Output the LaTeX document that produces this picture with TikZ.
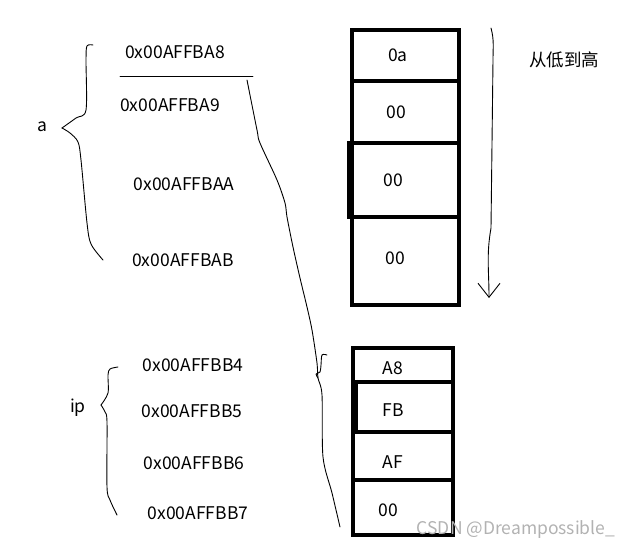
\documentclass[tikz,border=0pt]{standalone}
\usepackage{fontspec}
\newfontfamily\cjk{Noto Sans CJK SC}
\usetikzlibrary{arrows.meta, positioning}

\begin{document}
\begin{tikzpicture}[x=1pt, y=-1pt,
        cell/.style={draw, rectangle, line width=4pt, minimum width=107pt, inner sep=0pt},
        cellb/.style={cell, minimum width=100pt, line width=4.5pt},
        addr/.style={font=\cjk\fontsize{17.5}{21}\selectfont, inner sep=0pt},
        val/.style={addr},
        hand/.style={line width=0.9pt, line join=round, line cap=round},
        wmark/.style={font=\cjk\fontsize{17.5}{21}\selectfont, text=gray!60, inner sep=0pt}
    ]
    \useasboundingbox (0,0) rectangle (637,551);

    % Upper memory (a)
    \node[cell, minimum height=51pt] (m1) at (405.5,55.5) {};
    \node[cell, minimum height=62pt] (m2) at (405.5,112) {};
    \node[cell, minimum height=74pt] (m3) at (405.5,180) {};
    \node[cell, minimum height=88pt] (m4) at (405.5,261) {};
    \draw[line width=3pt] ([xshift=-1.5pt]m3.north west) -- ([xshift=-1.5pt]m3.south west);

    \node[val] (v1) at ([xshift=-7.5pt]m1.center) {0a};
    \node[val] (v2) at ([xshift=-9.5pt]m2.center) {00};
    \node[val] (v3) at ([xshift=-12.5pt]m3.center) {00};
    \node[val] (v4) at ([xshift=-10.5pt,yshift=3pt]m4.center) {00};

    % Lower memory (ip)
    \node[cellb, minimum height=34pt] (p1) at (403,365) {};
    \node[cellb, minimum height=50pt] (p2) at (403,407) {};
    \node[cellb, minimum height=48pt] (p3) at (403,456) {};
    \node[cellb, minimum height=55pt] (p4) at (403,507.5) {};
    \draw[line width=3pt] ([xshift=5.75pt]p2.north west) -- ([xshift=5.75pt]p2.south west);

    \node[val] (w1) at (393,368) {A8};
    \node[val] (w2) at (393,410) {FB};
    \node[val] (w3) at (393,462) {AF};
    \node[val] (w4) at (388,510) {00};

    % Addresses
    \node[addr] (ba8) at (175,52) {0x00AFFBA8};
    \node[addr] (ba9) at (170,105) {0x00AFFBA9};
    \node[addr] (baa) at (184,184) {0x00AFFBAA};
    \node[addr] (bab) at (183,260) {0x00AFFBAB};
    \node[addr] (bb4) at (193,365) {0x00AFFBB4};
    \node[addr] (bb5) at (192,411) {0x00AFFBB5};
    \node[addr] (bb6) at (194,463) {0x00AFFBB6};
    \node[addr] (bb7) at (198,513) {0x00AFFBB7};

    \node[addr, anchor=mid] (lblA) at (42,129) {a};
    \node[addr, anchor=mid] (lblIp) at (78,410) {ip};
    \node[addr] (order) at (564,60) {从低到高};

    % Braces and hand lines
    \draw[hand] (120,76) -- (253,76);
    \draw[hand] plot[smooth, tension=0.5] coordinates {(93,45) (87,46) (86,60) (86,110) (76,118) (62,128)};
    \draw[hand] plot[smooth, tension=0.5] coordinates {(62,128) (70,133) (78,142) (81,160) (87,223) (91,244) (103,260)};
    \draw[hand] plot[smooth, tension=0.5] coordinates {(118,367) (110,369) (108,375) (108,393) (101,405)};
    \draw[hand] plot[smooth, tension=0.5] coordinates {(101,405) (105,412) (107,422) (107,487) (110,500) (117,515)};
    \draw[hand] plot[smooth, tension=0.5] coordinates {(327,355) (322,355) (321,365) (320,372) (316,374) (318,378)};
    \draw[hand] plot[smooth, tension=0.5] coordinates {(247,80) (257,130) (260,143) (277,180) (285,203) (287,217) (293,247) (300,278) (307,307) (312,330) (317,363) (318,378) (322,395) (323,457) (332,493) (340,527)};

    % Direction arrow
    \coordinate (arrTop) at (491,28);
    \coordinate (arrEnd) at (489,298);
    \draw[hand, -{Straight Barb[length=14pt, width=22pt]}] (arrTop) to[out=-75, in=90] (493,60) -- (491,228) to[out=-100, in=90] (arrEnd);

    \node[wmark] (csdn) at (516,530) {CSDN @Dreampossible\_};
\end{tikzpicture}
\end{document}
